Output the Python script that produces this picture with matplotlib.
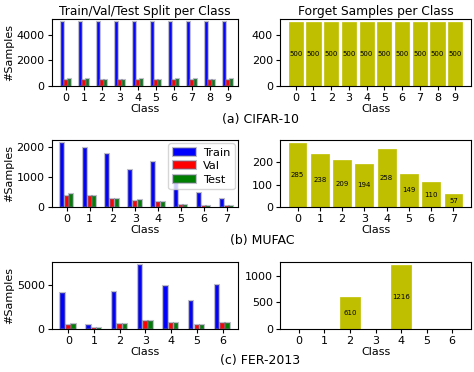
import numpy as np
import matplotlib.pyplot as plt

# Datos

cifar_train = [5000, 5000, 5000, 5000, 5000, 5000, 5000, 5000, 5000, 5000]
cifar_val = [480, 470, 500, 490, 470, 500, 480, 460, 500, 450]
cifar_test = [520, 530, 500, 510, 530, 500, 520, 540, 500, 550]
cifar_forget = [500, 500, 500, 500, 500, 500, 500, 500, 500, 500]

mufac_train = [2110, 1965, 1745, 1220, 1500, 810, 455, 277]
mufac_val = [360, 380, 275, 210, 155, 60, 30, 20]
mufac_test = [420, 370, 280, 220, 175, 80, 40, 20]
mufac_forget = [285, 238, 209, 194, 258, 149, 110, 57]

fer_train = [3995, 436, 4097, 7215, 4830, 3171, 4965]
fer_val = [467, 56, 496, 895, 653, 415, 607]
fer_test = [491, 55, 528, 879, 594, 416, 626]
fer_forget = [0, 0, 610, 0, 1216, 0, 0]

# marcas del eje y de cada panel (izquierda, derecha)
yticks_izq = [[0, 2000, 4000], [0, 1000, 2000], [0, 5000]]
yticks_der = [[0, 200, 400], [0, 100, 200], [0, 500, 1000]]

captions = ['(a) CIFAR-10', '(b) MUFAC', '(c) FER-2013']

plt.rcParams['font.size'] = 8

fig = plt.figure(figsize=(4.74, 3.72), dpi=100)

filas = [(cifar_train, cifar_val, cifar_test, cifar_forget),
         (mufac_train, mufac_val, mufac_test, mufac_forget),
         (fer_train, fer_val, fer_test, fer_forget)]
bottoms = [0.7688, 0.4435, 0.1164]
xlims = [(-0.8, 9.55), (-0.66, 7.5), (-0.65, 6.6)]
cap_pos = [(0.549, 0.678), (0.553, 0.354), (0.549, 0.032)]

edge = (0.45, 0.45, 0.55, 0.45)
w = 0.22

for k, (tr, va, te, fo) in enumerate(filas):
    x = np.arange(len(tr))
    ax1 = fig.add_axes([0.109, bottoms[k], 0.393, 0.180])
    ax1.bar(x - w, tr, w * 0.8, color='blue', edgecolor=edge, linewidth=1.5, label='Train')
    ax1.bar(x, va, w * 0.8, color='red', edgecolor=edge, linewidth=1.5, label='Val')
    ax1.bar(x + w * 0.9, te, w * 0.8, color='green', edgecolor=edge, linewidth=1.5, label='Test')
    ax1.set_xlim(xlims[k])
    ax1.set_xticks(x)
    ax1.set_yticks(yticks_izq[k])
    ax1.set_xlabel('Class', labelpad=1)
    ax1.set_ylabel('#Samples', labelpad=2)
    ax1.tick_params(pad=2, length=3)
    if k == 1:
        ax1.legend(loc='upper right', fontsize=8.2, handlelength=2.0,
                   borderaxespad=0.3, labelspacing=0.3, handletextpad=0.6)
    if k == 0:
        ax1.set_title('Train/Val/Test Split per Class', fontsize=8.8, pad=3)

    ax2 = fig.add_axes([0.5907, bottoms[k], 0.403, 0.180])
    bars = ax2.bar(x, fo, 0.8, color='y', edgecolor='y', linewidth=0.5)
    for b, v in zip(bars, fo):
        if v > 0:
            ax2.text(b.get_x() + b.get_width() / 2, v / 2, str(v),
                     ha='center', va='center', fontsize=5)
    ax2.set_xticks(x)
    ax2.set_yticks(yticks_der[k])
    ax2.set_xlabel('Class', labelpad=1)
    ax2.tick_params(pad=2, length=3)
    if k == 0:
        ax2.set_title('Forget Samples per Class', fontsize=8.8, pad=3)

    fig.text(cap_pos[k][0], cap_pos[k][1], captions[k], ha='center', va='center', fontsize=9)

plt.savefig('out.png', dpi=100)
